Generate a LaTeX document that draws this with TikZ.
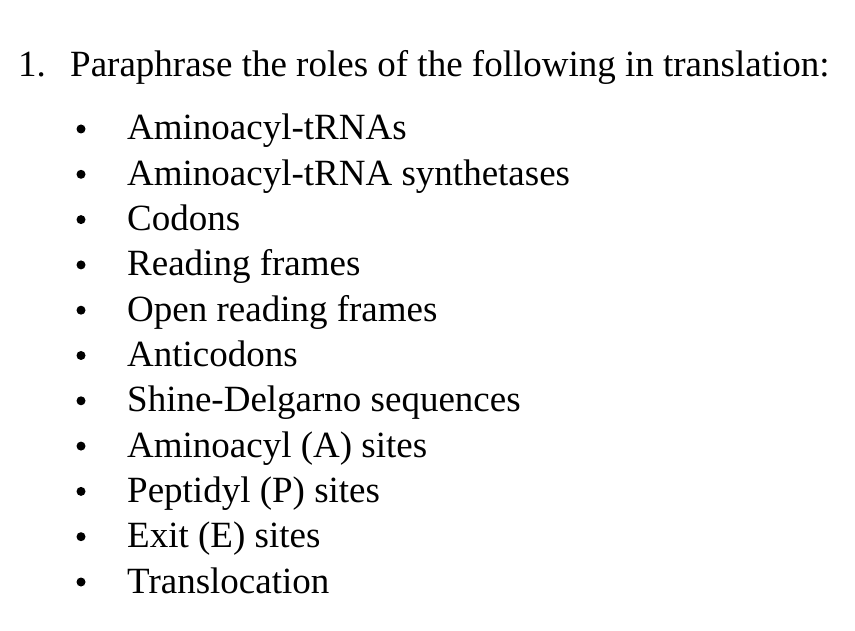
\documentclass[tikz,border=0pt]{standalone}
\usepackage{fontspec}
\setmainfont{Liberation Serif}
\begin{document}
\begin{tikzpicture}[x=1pt,y=-1pt,
  txt/.style={anchor=base west,inner sep=0pt,font=\fontsize{37}{40}\selectfont},
  bul/.style={circle,fill=black,inner sep=0pt,minimum size=9pt}]
\useasboundingbox (0,0) rectangle (855,631);
\node[txt] (num) at (18,77) {1.};
\node[txt] (title) at (70,77) {Paraphrase the roles of the following in translation:};
\foreach \t [count=\i] in {Aminoacyl-tRNAs,Aminoacyl-tRNA synthetases,Codons,Reading frames,Open reading frames,Anticodons,Shine-Delgarno sequences,Aminoacyl (A) sites,Peptidyl (P) sites,Exit (E) sites,Translocation}{
  \pgfmathsetmacro\yy{140+45.3*(\i-1)}
  \node[bul] (b\i) at (81,\yy-11) {};
  \node[txt] (t\i) at (127,\yy) {\t};
}
\end{tikzpicture}
\end{document}
